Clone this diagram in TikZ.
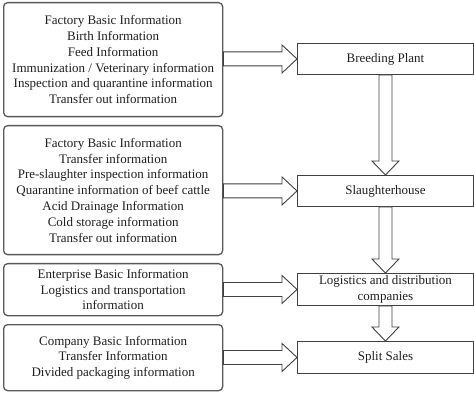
\documentclass[tikz,border=0pt]{standalone}
\usepackage{fontspec}
\setmainfont{Liberation Serif}
\usetikzlibrary{calc}
\begin{document}
\begin{tikzpicture}[x=1pt,y=-1pt,
  infobox/.style={draw=black!65,line width=1.3pt,rounded corners=4pt,
    align=center,anchor=north west,inner sep=0pt,text=black!88,
    font=\fontsize{13}{15.8}\selectfont},
  stagebox/.style={draw=black!75,line width=0.9pt,align=center,
    anchor=north west,inner sep=0pt,text=black!88,
    font=\fontsize{13}{15.8}\selectfont},
  fat/.style={draw=black!75,line width=0.9pt,fill=white,line join=miter}]
\useasboundingbox (0,0) rectangle (474,414);
% left info boxes
\node[infobox,minimum width=219pt,minimum height=114pt] (l1) at (3,2)
 {Factory Basic Information\\Birth Information\\Feed Information\\Immunization / Veterinary information\\Inspection and quarantine information\\Transfer out information};
\node[infobox,minimum width=219pt,minimum height=129pt] (l2) at (3,125)
 {Factory Basic Information\\Transfer information\\Pre-slaughter inspection information\\Quarantine information of beef cattle\\Acid Drainage Information\\Cold storage information\\Transfer out information};
\node[infobox,minimum width=219pt,minimum height=52pt] (l3) at (3,263)
 {Enterprise Basic Information\\Logistics and transportation\\information};
\node[infobox,minimum width=219pt,minimum height=66pt] (l4) at (3,324)
 {Company Basic Information\\Transfer Information\\Divided packaging information};
% right stage boxes
\node[stagebox,minimum width=176pt,minimum height=31pt] (r1) at (297,43) {Breeding Plant};
\node[stagebox,minimum width=176pt,minimum height=31pt] (r2) at (297,175) {Slaughterhouse};
\node[stagebox,minimum width=176pt,minimum height=32pt] (r3) at (297,273) {Logistics and distribution\\companies};
\node[stagebox,minimum width=176pt,minimum height=32pt] (r4) at (297,341) {Split Sales};
% horizontal fat arrows
\foreach \a/\b in {l1/r1,l2/r2,l3/r3,l4/r4}{
  \draw[fat] let \p1=(\a.east), \p2=(\b.west) in
    (\x1,{\y2+7pt}) -- ({\x2-15pt},{\y2+7pt}) -- ({\x2-15pt},{\y2+14pt}) --
    (\x2,\y2) -- ({\x2-15pt},{\y2-14pt}) -- ({\x2-15pt},{\y2-7pt}) --
    (\x1,{\y2-7pt}) -- cycle;
}
% vertical fat arrows
\foreach \a/\b in {r1/r2,r2/r3,r3/r4}{
  \draw[fat] let \p1=(\a.south), \p2=(\b.north) in
    ({\x1-6.5pt},\y1) -- ({\x1-6.5pt},{\y2+14pt}) -- ({\x1-13.5pt},{\y2+14pt}) --
    (\x1,\y2) -- ({\x1+13.5pt},{\y2+14pt}) -- ({\x1+6.5pt},{\y2+14pt}) --
    ({\x1+6.5pt},\y1) -- cycle;
}
\end{tikzpicture}
\end{document}
